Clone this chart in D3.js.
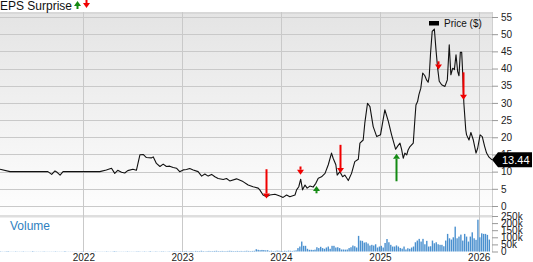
<!DOCTYPE html>
<html lang="en">
  <head>
    <meta charset="utf-8">
    <title>EPS Surprise</title>
    <script src="https://d3js.org/d3.v7.js"></script>
    <style>
      body { margin: 0; background: #fff; }
      text { font-family: "Liberation Sans", Arial, sans-serif; }
    </style>
  </head>

  <body>

  <script>

// data

  const priceDates = ["2021-02-27","2021-04-05","2021-06-18","2021-08-23","2021-09-06","2021-09-18","2021-09-26","2021-10-07","2021-10-18","2021-12-20",
    "2022-03-03","2022-03-27","2022-04-15","2022-04-27","2022-05-08","2022-05-22","2022-06-03","2022-06-14","2022-07-03","2022-07-16",
    "2022-07-29","2022-08-10","2022-08-22","2022-09-10","2022-09-16","2022-09-28","2022-10-11","2022-10-23","2022-11-04","2022-11-16",
    "2022-11-29","2022-12-11","2022-12-23","2023-01-05","2023-01-17","2023-01-29","2023-02-11","2023-03-01","2023-03-14","2023-03-26",
    "2023-04-07","2023-04-20","2023-05-02","2023-05-14","2023-06-02","2023-06-14","2023-06-26","2023-07-21","2023-08-14","2023-09-02",
    "2023-09-20","2023-10-09","2023-10-15","2023-10-27","2023-11-09","2023-11-21","2023-12-10","2023-12-28","2024-01-09","2024-01-22",
    "2024-02-03","2024-02-22","2024-02-28","2024-03-07","2024-03-14","2024-03-21","2024-03-30","2024-04-07","2024-04-17","2024-04-29",
    "2024-05-09","2024-05-18","2024-05-30","2024-06-12","2024-06-24","2024-07-06","2024-07-12","2024-07-22","2024-07-27","2024-08-06",
    "2024-08-16","2024-08-24","2024-09-06","2024-09-18","2024-09-30","2024-10-13","2024-10-19","2024-10-31","2024-11-06","2024-11-16",
    "2024-11-25","2024-12-07","2024-12-20","2025-01-03","2025-01-19","2025-02-01","2025-02-13","2025-02-28","2025-03-08","2025-03-16",
    "2025-03-22","2025-03-28","2025-04-03","2025-04-10","2025-04-15","2025-04-22","2025-05-04","2025-05-10","2025-05-14","2025-05-20",
    "2025-05-25","2025-06-01","2025-06-08","2025-06-16","2025-06-22","2025-06-28","2025-07-02","2025-07-07","2025-07-13","2025-07-21",
    "2025-07-27","2025-08-02","2025-08-08","2025-08-17","2025-08-29","2025-09-07","2025-09-14","2025-09-20","2025-09-27","2025-10-03",
    "2025-10-09","2025-10-15","2025-10-20","2025-10-25","2025-10-30","2025-11-03","2025-11-07","2025-11-14","2025-11-17","2025-11-26",
    "2025-12-03","2025-12-12","2025-12-22","2025-12-28","2026-01-06","2026-01-14","2026-01-23","2026-01-30","2026-02-08","2026-02-19"];

  const priceValues = [10.7,10.0,10.0,10.0,9.2,10.2,9.8,9.0,10.0,10.0,
    10.0,10.5,11.0,9.5,10.4,9.8,9.6,10.3,10.7,10.4,
    14.9,15.0,14.1,14.0,14.3,12.4,11.5,12.2,11.5,11.6,
    11.2,11.0,10.0,10.5,10.6,10.9,10.5,10.0,8.7,9.3,
    8.7,9.2,8.5,8.0,7.7,8.0,7.3,7.9,7.1,6.1,
    5.6,5.2,4.7,3.2,2.7,3.2,3.4,2.9,2.5,3.2,
    2.7,3.2,4.7,5.6,7.8,4.7,6.1,5.2,5.8,5.5,
    6.6,8.1,8.5,9.5,12.0,15.4,13.9,12.0,9.0,10.0,
    8.5,9.0,7.4,9.5,12.9,13.6,18.3,19.2,24.1,29.9,
    28.9,23.1,20.2,20.7,28.0,24.6,20.7,16.5,17.5,18.3,
    16.5,13.9,15.4,14.9,16.3,17.3,18.3,25.1,29.4,30.4,
    32.4,34.3,38.7,37.9,36.7,36.0,37.7,44.5,50.8,51.5,
    45.5,40.2,36.3,35.3,34.8,36.7,46.9,38.2,40.1,39.7,
    44.0,39.2,37.9,44.7,44.7,38.2,29.9,22.2,20.7,19.2,
    21.4,19.2,15.4,16.8,20.7,20.2,17.3,15.4,14.2,13.44];

  const lastPrice = 13.44;

// weekly volume in thousands, first week starts 2021-03-01

  const volumeStart = "2021-03-01";
  const volumeValues = [2,1,1,2,3,1,1,1,2,1, 1,1,2,1,1,1,1,3,1,1, 1,1,1,2,1,1,1,1,1,2, 1,1,1,1,3,1,1,1,1,1, 1,
    1,1,2,1,1,1,1,1,1,2, 1,1,1,1,1,2,1,1,1,3, 2,1,1,1,1,1,2,1,1,1, 1,2,2,1,1,2,1,1,3,1, 1,2,1,1,2,2,1,1,2,1,
    2,3,2,2,3,2,3,4,2,3, 3,2,4,3,3,5,3,2,3,4, 3,3,4,5,3,3,4,3,3,4, 5,4,3,3,4,3,4,3,4,5, 4,3,4,
    5,16,12,9,11,10,8,9,4,5,3,4,6,5,4,3,5,4,6,
    5,4,6,8,
    24,35,70,40,40,19,12,12,11,13, 30,24,33,24,19,28,35,19,40,40, 28,30,24,14,14,13,14,24,30,42,
    37,28,110,77,75,63,65,56,42,47, 42,51,28,35,40,28,60,88,
    65,47,35,35,43,35,25,20,35,14, 23,19,28,35,65,77,89,70,89,51, 75,35,37,77,58,65,51,47,47,37,
    77,124,93,84,100,175,93,105,119,77, 124,105,70,105,135,93,82,224,100,128, 124,124,117,84];

// EPS surprise arrows: date, beat/miss, tail and tip in price units

  const epsDates = ["2023-11-06","2024-03-11","2024-05-08","2024-08-06","2025-03-01","2025-08-02","2025-11-05"];
  const epsBeat = [false,false,true,false,true,false,false];
  const epsTail = [10.7,11.5,3.7,17.8,7.2,42.1,38.9];
  const epsTip = [2.2,9.1,5.8,9.6,15.2,39.7,30.9];

  const priceTicks = [0,5,10,15,20,25,30,35,40,45,50,55];
  const volumeTicks = [0,50,100,150,200,250];
  const yearTicks = [2022,2023,2024,2025,2026];

// sizes

  const w = 533;
  const h = 262;
  const plotRight = 492;
  const priceTop = 12, priceBottom = 215;
  const volTop = 217.5, volBottom = 252;

  const parse = d3.timeParse("%Y-%m-%d");
  const red = "#f00000", green = "#138a13";

  const xScale = d3.scaleTime()
      .domain([parse("2021-02-27"), parse("2026-02-19")])
      .range([0, plotRight]);

  const yScale = d3.scaleLinear()
      .domain([0, 55])
      .range([206, 17]);

  const vScale = d3.scaleLinear()
      .domain([0, 250])
      .range([251.5, 216]);

  const svg = d3.select("body")
    .append("svg")
      .attr("width", w)
      .attr("height", h);

// backgrounds

  const grad = svg.append("defs").append("linearGradient")
      .attr("id", "bg")
      .attr("x1", 0).attr("y1", 0).attr("x2", 0).attr("y2", 1);
  grad.append("stop").attr("offset", "0%").attr("stop-color", "#e4e4e4");
  grad.append("stop").attr("offset", "100%").attr("stop-color", "#fefefe");

  svg.append("rect")
      .attr("x", 0).attr("y", priceTop)
      .attr("width", plotRight).attr("height", priceBottom - priceTop)
      .attr("fill", "url(#bg)");

  svg.append("rect")
      .attr("x", 0).attr("y", priceTop)
      .attr("width", plotRight).attr("height", 2)
      .attr("fill", "#d8d8d8");

  svg.append("rect")
      .attr("x", 0).attr("y", priceBottom)
      .attr("width", plotRight).attr("height", volTop - priceBottom)
      .attr("fill", "#dedede");

// grid

  svg.append("g")
    .selectAll("line")
    .data(priceTicks)
    .join("line")
      .attr("x1", 0).attr("x2", plotRight)
      .attr("y1", d => Math.round(yScale(d)) + 0.5)
      .attr("y2", d => Math.round(yScale(d)) + 0.5)
      .attr("stroke", "#c9c9c9");

  const yearDates = yearTicks.map(y => new Date(y, 0, 1));

  svg.append("g")
    .selectAll("line")
    .data(yearDates)
    .join("line")
      .attr("x1", d => Math.round(xScale(d)) + 0.5)
      .attr("x2", d => Math.round(xScale(d)) + 0.5)
      .attr("y1", priceTop).attr("y2", volBottom)
      .attr("stroke", "#c9c9c9");

  svg.append("line")
      .attr("x1", plotRight + 0.5).attr("x2", plotRight + 0.5)
      .attr("y1", priceTop).attr("y2", volBottom)
      .attr("stroke", "#d0d0d0");

// volume bars

  const vStart = parse(volumeStart);
  const bw = 1.4;

  svg.append("g")
    .selectAll("rect")
    .data(volumeValues)
    .join("rect")
      .attr("x", (d, i) => xScale(d3.timeWeek.offset(vStart, i)) - bw / 2)
      .attr("y", d => vScale(d))
      .attr("width", bw)
      .attr("height", d => vScale(0) - vScale(d))
      .attr("fill", "#4a90cf");

  svg.append("text")
      .attr("x", 10)
      .attr("y", 230)
      .attr("font-size", 12)
      .attr("fill", "#2f7fc0")
      .text("Volume");

// price line

  const priceData = priceDates.map((d, i) => [parse(d), priceValues[i]]);

  svg.append("path")
      .datum(priceData)
      .attr("fill", "none")
      .attr("stroke", "#111")
      .attr("stroke-width", 1.1)
      .attr("stroke-linejoin", "round")
      .attr("d", d3.line()
        .x(d => xScale(d[0]))
        .y(d => yScale(d[1])));

// EPS arrows

  function arrow(g, x, yTail, yTip, color) {
    const dir = yTip > yTail ? 1 : -1;
    const base = yTip - dir * 5;
    g.append("line")
        .attr("x1", x).attr("x2", x)
        .attr("y1", yTail).attr("y2", base)
        .attr("stroke", color)
        .attr("stroke-width", 2);
    g.append("path")
        .attr("d", `M${x - 3.5},${base}L${x + 3.5},${base}L${x},${yTip}Z`)
        .attr("fill", color);
  }

  const arrows = svg.append("g");
  epsDates.forEach((d, i) => {
    arrow(arrows, Math.round(xScale(parse(d))) + 0.5, yScale(epsTail[i]), yScale(epsTip[i]),
      epsBeat[i] ? green : red);
  });

// axes

  const yAxis = svg.append("g")
      .attr("transform", `translate(${plotRight}, 0)`)
      .call(d3.axisRight(yScale).tickValues(priceTicks).tickSize(6).tickPadding(3));

  const vAxis = svg.append("g")
      .attr("transform", `translate(${plotRight}, 0)`)
      .call(d3.axisRight(vScale).tickValues(volumeTicks).tickSize(6).tickPadding(3)
        .tickFormat(d => d === 0 ? "0" : d + "k"));

  const xAxis = svg.append("g")
      .attr("transform", `translate(0, ${vScale(0)})`)
      .call(d3.axisBottom(xScale).tickValues(yearDates).tickSize(0).tickPadding(2)
        .tickFormat(d3.timeFormat("%Y")));

  [yAxis, vAxis, xAxis].forEach(a => {
    a.select(".domain").remove();
    a.selectAll(".tick line").attr("stroke", "#999");
    a.selectAll(".tick text")
        .attr("fill", "#222")
        .attr("font-size", 10)
        .attr("font-family", "'Liberation Sans', Arial, sans-serif");
  });

// last price callout

  const yl = yScale(lastPrice);
  svg.append("path")
      .attr("d", `M${plotRight},${yl}L${plotRight + 6},${yl - 7.5}L532,${yl - 7.5}L532,${yl + 7.5}L${plotRight + 6},${yl + 7.5}Z`)
      .attr("fill", "#000");

  svg.append("text")
      .attr("x", 502)
      .attr("y", yl + 4)
      .attr("font-size", 11)
      .attr("fill", "#fff")
      .text(d3.format(".2f")(lastPrice));

// legends

  svg.append("text")
      .attr("x", 0)
      .attr("y", 10)
      .attr("font-size", 12)
      .attr("fill", "#111")
      .text("EPS Surprise");

  const leg = svg.append("g");
  arrow(leg, 77.5, 9, 1, green);
  arrow(leg, 86.5, 0, 8, red);

  svg.append("rect")
      .attr("x", 429).attr("y", 21)
      .attr("width", 10).attr("height", 4.5)
      .attr("fill", "#000");

  svg.append("text")
      .attr("x", 444)
      .attr("y", 27)
      .attr("font-size", 10)
      .attr("fill", "#111")
      .text("Price ($)");

    </script>

  </body>

</html>
